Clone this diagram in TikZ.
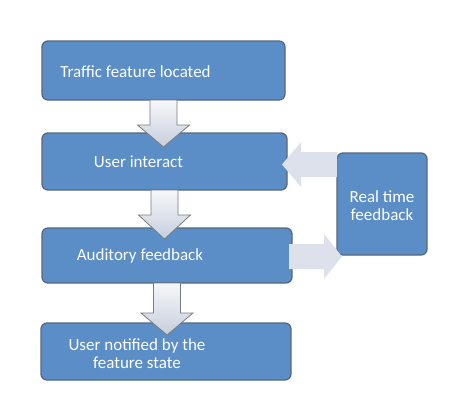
\documentclass[tikz,border=0pt]{standalone}
\usepackage{fontspec}
\setmainfont{Carlito}
\usepackage{xcolor}
\usepackage{tikz}
\usetikzlibrary{calc}
\usetikzlibrary{positioning}

\definecolor{boxblue}{RGB}{91,142,198}
\definecolor{boxline}{RGB}{88,104,122}
\definecolor{arrowtop}{RGB}{246,247,250}
\definecolor{arrowbot}{RGB}{198,206,220}
\definecolor{arrowline}{RGB}{120,124,130}
\definecolor{sidefill}{RGB}{221,225,236}

% block arrow: [style]{tail}{tip}{half shaft}{half head}{head length}
\newcommand{\blockarrow}[6][]{
	\coordinate (hb) at ($(#3)!#6!(#2)$);
	\path[#1] ($(#2)!#4!90:(#3)$) -- ($(hb)!#4!90:(#3)$) -- ($(hb)!#5!90:(#3)$) -- (#3)
		-- ($(hb)!#5!-90:(#3)$) -- ($(hb)!#4!-90:(#3)$) -- ($(#2)!#4!-90:(#3)$) -- cycle;
}

\begin{document}
\begin{tikzpicture}[font=\fontsize{17}{18}\selectfont]
	\tikzstyle{box}=[draw=boxline, line width=1.3pt, fill=boxblue, rounded corners=6pt, outer sep=0pt, minimum width=246pt, minimum height=57pt]
	\tikzstyle{downarr}=[draw=arrowline, line width=0.8pt, top color=arrowtop, bottom color=arrowbot]
	\tikzstyle{sidearr}=[fill=sidefill]
	\tikzstyle{txt}=[text=white, align=center]

	\useasboundingbox (0,0) rectangle (474pt,-415pt);

	% boxes
	\node[box, minimum width=243pt, minimum height=59pt] (traffic) at (163.5pt,-70.5pt) {};
	\node[box, minimum width=245pt, below right=33pt and 0pt of traffic.south west] (interact) {};
	\node[box, minimum width=250pt, minimum height=55pt, below right=38pt and 0pt of interact.south west] (auditory) {};
	\node[box, minimum width=250pt, below right=40pt and -1pt of auditory.south west] (notified) {};
	\node[box, minimum width=90pt, minimum height=102pt, below right=20pt and 50pt of interact.north east] (realtime) {};

	% texts
	\node[txt] (traffic-t) at ($(traffic.center)+(-28pt,-1pt)$) {Traffic feature located};
	\node[txt] (interact-t) at ($(interact.center)+(-26pt,0)$) {User interact};
	\node[txt] (auditory-t) at ($(auditory.center)+(-27pt,0)$) {Auditory feedback};
	\node[txt] (notified-t) at ($(notified.center)+(-29pt,-2pt)$) {User notified by the\\feature state};
	\node[txt] (realtime-t) at ($(realtime.center)+(0,-2pt)$) {Real time\\feedback};

	% arrows
	\coordinate (tip1) at ($(traffic.south |- interact.north)+(0,-14pt)$);
	\coordinate (tip2) at ($(interact.south |- auditory.north)+(0,-11pt)$);
	\coordinate (tip3) at ($(auditory.south |- notified.north)+(0,-12pt)$);
	\blockarrow[downarr]{traffic.south}{tip1}{13.5pt}{26pt}{22pt}
	\blockarrow[downarr]{interact.south}{tip2}{13.5pt}{26pt}{24pt}
	\blockarrow[downarr]{auditory.south}{tip3}{13.5pt}{26pt}{22pt}

	\coordinate (back) at ($(realtime.west |- interact.east)+(0,-3pt)$);
	\coordinate (backtip) at ($(interact.east)+(-5pt,-3pt)$);
	\coordinate (fwd) at ($(auditory.east)+(-3pt,-1pt)$);
	\coordinate (fwdtip) at ($(realtime.west |- auditory.east)+(5pt,-1pt)$);
	\blockarrow[sidearr]{back}{backtip}{12.5pt}{22.5pt}{19pt}
	\blockarrow[sidearr]{fwd}{fwdtip}{12.5pt}{22.5pt}{18pt}
\end{tikzpicture}
\end{document}
